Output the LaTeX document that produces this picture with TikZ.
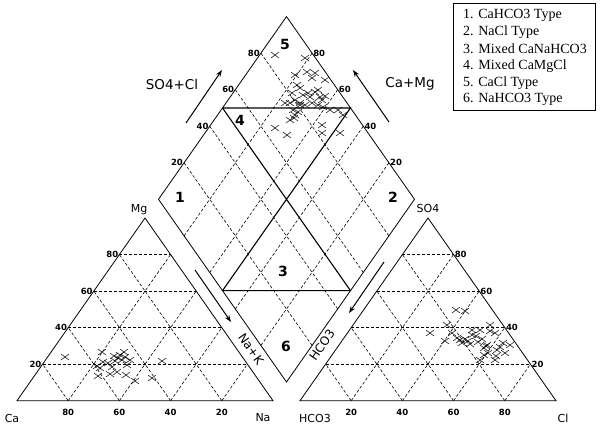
\documentclass[tikz,border=0pt]{standalone}
\usetikzlibrary{calc,arrows.meta}
\usepackage{fontspec}
\setmainfont{DejaVu Sans}
\newfontfamily\legfont{Liberation Serif}
\begin{document}
\begin{tikzpicture}[x=1pt,y=-1pt,
  grid/.style={densely dashed,line width=0.6pt},
  frame/.style={line width=0.8pt},
  thick line/.style={line width=1.1pt},
  tick/.style={font=\fontsize{8.5}{9}\selectfont\bfseries,inner sep=1pt},
  axlab/.style={font=\fontsize{11}{12}\selectfont},
  biglab/.style={font=\fontsize{13.5}{14}\selectfont},
  sidelab/.style={font=\fontsize{12}{13}\selectfont,inner sep=0pt},
  reg/.style={font=\fontsize{14}{15}\selectfont\bfseries},
  leg/.style={font=\legfont\fontsize{14}{15}\selectfont,anchor=west,inner sep=0pt},
  arr/.style={line width=1pt,-{Stealth[length=7pt,width=5pt]}},
  pt/.style={line width=0.5pt}]
\useasboundingbox (0,0) rectangle (600,429);
\coordinate (A) at (17,400.7); \coordinate (B) at (273,400.7); \coordinate (C) at (145,218);
\coordinate (D) at (300,400.7); \coordinate (E) at (556,400.7); \coordinate (F) at (428,218);
\coordinate (P) at (286.5,382); \coordinate (L) at (158.5,199.3); \coordinate (R) at (414.5,199.3); \coordinate (T) at (286.5,16.6);
\foreach \f in {0.2,0.4,0.6,0.8}{
  \draw[grid] ($(A)!\f!(C)$) -- ($(B)!\f!(C)$);
  \draw[grid] ($(A)!\f!(B)$) -- ($(C)!\f!(B)$);
  \draw[grid] ($(B)!\f!(A)$) -- ($(C)!\f!(A)$);
  \draw[grid] ($(D)!\f!(F)$) -- ($(E)!\f!(F)$);
  \draw[grid] ($(D)!\f!(E)$) -- ($(F)!\f!(E)$);
  \draw[grid] ($(E)!\f!(D)$) -- ($(F)!\f!(D)$);
  \draw[grid] ($(P)!\f!(L)$) -- ($(R)!\f!(T)$);
  \draw[grid] ($(P)!\f!(R)$) -- ($(L)!\f!(T)$);
}
\draw[frame] (A) -- (B) -- (C) -- cycle;
\draw[frame] (D) -- (E) -- (F) -- cycle;
\draw[frame] (P) -- (L) -- (T) -- (R) -- cycle;
\foreach \f/\t in {0.2/20,0.4/40,0.6/60,0.8/80}{
  \node[tick,anchor=east] at ($(A)!\f!(C)$) {\t};
  \node[tick,anchor=west] at ($(E)!\f!(F)$) {\t};
  \node[tick,anchor=east] at ($(L)!\f!(T)$) {\t};
  \node[tick,anchor=west] at ($(R)!\f!(T)$) {\t};
  \node[tick] at ($(B)!\f!(A)+(0,12)$) {\t};
  \node[tick] at ($(D)!\f!(E)+(0,12)$) {\t};
}
\draw[thick line] ($(L)!0.5!(T)$) coordinate (u1) -- ($(R)!0.5!(T)$) coordinate (u2)
  -- ($(P)!0.5!(L)$) coordinate (d1) -- ($(P)!0.5!(R)$) coordinate (d2) -- (u1);
\node[axlab] (mg) at (139,210) {Mg};
\node[axlab] (ca) at (12,418) {Ca};
\node[axlab] (na) at (263,418) {Na};
\node[axlab] (so4) at (428,208) {SO4};
\node[axlab] (hco3) at (315,418) {HCO3};
\node[axlab] (cl) at (563,418) {Cl};
\node[biglab] (sc) at (172,84) {SO4+Cl};
\node[biglab] (cm) at (410,84) {Ca+Mg};
\node[sidelab,rotate=-55] (nk) at (251,349) {Na+K};
\node[sidelab,rotate=55] (hc) at (322,345) {HCO3};
\draw[arr] (186,123) -- (222,70);
\draw[arr] (389,122) -- (353,70);
\draw[arr] (195,270) -- (231,322);
\draw[arr] (384,262) -- (349,313);
\node[reg] (r5) at (285,44) {5};
\node[reg] (r4) at (240,120) {4};
\node[reg] (r1) at (180,197) {1};
\node[reg] (r2) at (393,197) {2};
\node[reg] (r3) at (283,271) {3};
\node[reg] (r6) at (286,346) {6};
\draw[line width=0.6pt] (453,3) rectangle (595,110);
\node[leg] (l1) at (463,15) {1. CaHCO3 Type};
\node[leg] (l2) at (463,32) {2. NaCl Type};
\node[leg] (l3) at (463,49) {3. Mixed CaNaHCO3};
\node[leg] (l4) at (463,66) {4. Mixed CaMgCl};
\node[leg] (l5) at (463,83) {5. CaCl Type};
\node[leg] (l6) at (463,99) {6. NaHCO3 Type};
\foreach \p in {(65,357),(102,352),(97,366),(100,368),(103,362),(108,363),(112,367),(115,361),(118,358),(120,355),(122,360),(125,357),(127,365),(130,360),(117,372),(126,375),(135,381),(152,378),(162,361),(110,374),(98,376),(124,352),(114,356),
 (456,310),(465,311),(447,325),(452,333),(430,333),(445,341),(457,338),(460,340),(462,343),(465,339),(468,341),(470,344),(472,335),(476,336),(480,330),(478,342),(482,339),(484,348),(486,346),(484,355),(480,360),(490,331),(495,333),(487,345),(497,350),(500,347),(503,343),(505,353),(496,356),(510,345),(495,360),(488,353),(490,325),(472,330),
 (275,55),(305,58),(307,72),(315,73),(312,78),(325,80),(295,75),(297,85),(300,88),(303,95),(308,93),(310,97),(315,92),(318,90),(320,97),(325,96),(322,100),(300,103),(305,105),(312,103),(295,100),(290,103),(285,103),(293,110),(295,115),(290,120),(294,118),(298,112),(318,105),(323,107),(338,110),(330,110),(343,115),(322,125),(322,133),(275,128),(287,135),(340,133),(300,105),(292,93)}
 {\draw[pt,shift={\p}] (-4,-3) -- (4,3) (-4,3) -- (4,-3);}
\end{tikzpicture}
\end{document}
